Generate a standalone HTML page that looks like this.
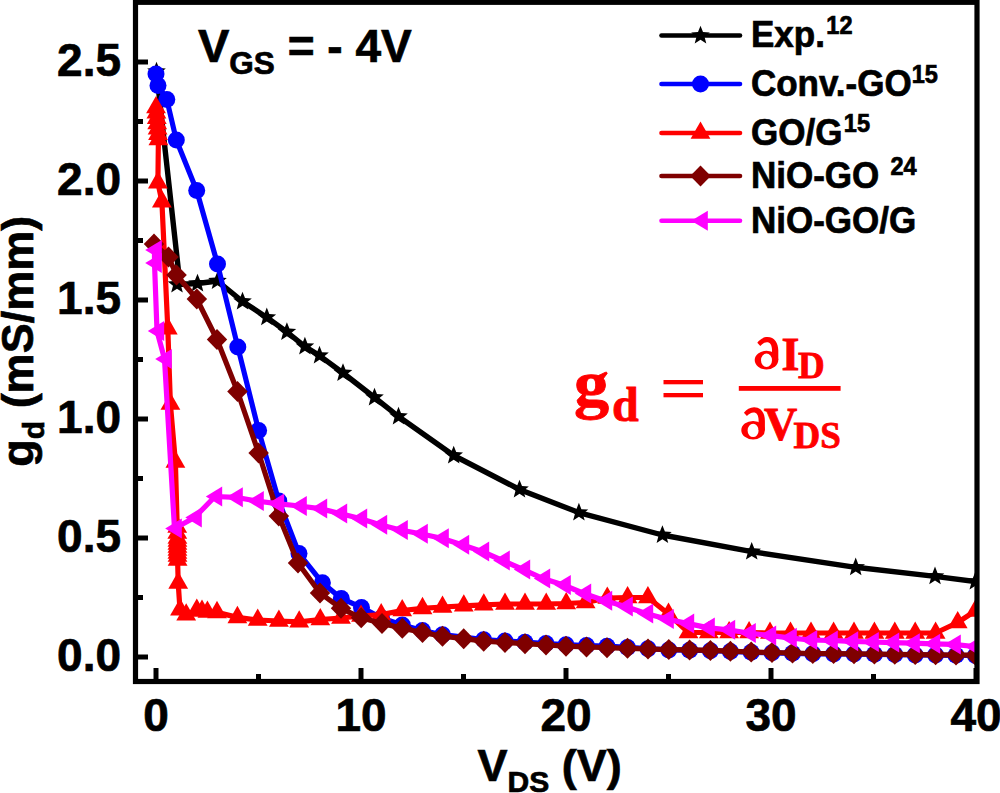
<!DOCTYPE html>
<html><head><meta charset="utf-8"><style>
html,body{margin:0;padding:0;background:#fff;width:1000px;height:793px;overflow:hidden}
svg{position:absolute;left:0;top:0}
</style></head><body>
<svg width="1000" height="793" viewBox="0 0 1000 793">
<defs><clipPath id="pc"><rect x="138" y="4" width="837" height="675"/></clipPath></defs>
<g clip-path="url(#pc)"><g fill="#000000"><polyline points="156.5,71.5 178.5,271.0 177.0,284.5 197.5,283.5 217.5,281.0 242.5,301.5 266.8,317.4 286.9,332.0 304.9,346.6 319.5,355.6 343.0,373.0 374.5,397.5 398.5,416.5 453.7,455.5 519.5,489.5 578.9,512.6 662.4,535.0 751.7,551.7 855.7,567.3 935.0,576.4 975.3,581.6" fill="none" stroke="#000000" stroke-width="5.4" stroke-linejoin="round"/><polygon points="156.5,61.7 159.0,68.1 165.8,68.5 160.5,72.8 162.3,79.4 156.5,75.7 150.7,79.4 152.5,72.8 147.2,68.5 154.0,68.1"/><polygon points="177.0,274.7 179.5,281.1 186.3,281.5 181.0,285.8 182.8,292.4 177.0,288.7 171.2,292.4 173.0,285.8 167.7,281.5 174.5,281.1"/><polygon points="197.5,273.7 200.0,280.1 206.8,280.5 201.5,284.8 203.3,291.4 197.5,287.7 191.7,291.4 193.5,284.8 188.2,280.5 195.0,280.1"/><polygon points="217.5,271.2 220.0,277.6 226.8,278.0 221.5,282.3 223.3,288.9 217.5,285.2 211.7,288.9 213.5,282.3 208.2,278.0 215.0,277.6"/><polygon points="242.5,291.7 245.0,298.1 251.8,298.5 246.5,302.8 248.3,309.4 242.5,305.7 236.7,309.4 238.5,302.8 233.2,298.5 240.0,298.1"/><polygon points="266.8,307.6 269.3,314.0 276.1,314.4 270.8,318.7 272.6,325.3 266.8,321.6 261.0,325.3 262.8,318.7 257.5,314.4 264.3,314.0"/><polygon points="286.9,322.2 289.4,328.6 296.2,329.0 290.9,333.3 292.7,339.9 286.9,336.2 281.1,339.9 282.9,333.3 277.6,329.0 284.4,328.6"/><polygon points="304.9,336.8 307.4,343.2 314.2,343.6 308.9,347.9 310.7,354.5 304.9,350.8 299.1,354.5 300.9,347.9 295.6,343.6 302.4,343.2"/><polygon points="319.5,345.8 322.0,352.2 328.8,352.6 323.5,356.9 325.3,363.5 319.5,359.8 313.7,363.5 315.5,356.9 310.2,352.6 317.0,352.2"/><polygon points="343.0,363.2 345.5,369.6 352.3,370.0 347.0,374.3 348.8,380.9 343.0,377.2 337.2,380.9 339.0,374.3 333.7,370.0 340.5,369.6"/><polygon points="374.5,387.7 377.0,394.1 383.8,394.5 378.5,398.8 380.3,405.4 374.5,401.7 368.7,405.4 370.5,398.8 365.2,394.5 372.0,394.1"/><polygon points="398.5,406.7 401.0,413.1 407.8,413.5 402.5,417.8 404.3,424.4 398.5,420.7 392.7,424.4 394.5,417.8 389.2,413.5 396.0,413.1"/><polygon points="453.7,445.7 456.2,452.1 463.0,452.5 457.7,456.8 459.5,463.4 453.7,459.7 447.9,463.4 449.7,456.8 444.4,452.5 451.2,452.1"/><polygon points="519.5,479.7 522.0,486.1 528.8,486.5 523.5,490.8 525.3,497.4 519.5,493.7 513.7,497.4 515.5,490.8 510.2,486.5 517.0,486.1"/><polygon points="578.9,502.8 581.4,509.2 588.2,509.6 582.9,513.9 584.7,520.5 578.9,516.8 573.1,520.5 574.9,513.9 569.6,509.6 576.4,509.2"/><polygon points="662.4,525.2 664.9,531.6 671.7,532.0 666.4,536.3 668.2,542.9 662.4,539.2 656.6,542.9 658.4,536.3 653.1,532.0 659.9,531.6"/><polygon points="751.7,541.9 754.2,548.3 761.0,548.7 755.7,553.0 757.5,559.6 751.7,555.9 745.9,559.6 747.7,553.0 742.4,548.7 749.2,548.3"/><polygon points="855.7,557.5 858.2,563.9 865.0,564.3 859.7,568.6 861.5,575.2 855.7,571.5 849.9,575.2 851.7,568.6 846.4,564.3 853.2,563.9"/><polygon points="935.0,566.6 937.5,573.0 944.3,573.4 939.0,577.7 940.8,584.3 935.0,580.6 929.2,584.3 931.0,577.7 925.7,573.4 932.5,573.0"/><polygon points="975.3,571.8 977.8,578.2 984.6,578.6 979.3,582.9 981.1,589.5 975.3,585.8 969.5,589.5 971.3,582.9 966.0,578.6 972.8,578.2"/></g><g fill="#0000ff"><polyline points="156.0,74.0 158.0,85.5 166.8,99.5 176.3,140.0 196.7,190.5 217.5,264.0 237.8,347.0 258.6,430.4 278.8,501.0 299.0,553.5 322.4,582.8 341.3,598.4 361.5,607.4 381.5,618.0 402.3,625.0 422.5,630.5 442.5,634.7 483.7,639.7 505.0,641.0 525.0,642.2 546.0,643.5 566.0,644.7 586.5,645.5 607.0,646.2 627.5,647.4 648.0,648.7 668.8,649.9 689.6,650.2 710.4,650.7 730.4,651.5 751.2,652.3 772.0,652.8 792.5,653.3 812.8,653.8 833.6,653.9 854.0,654.1 874.4,654.3 894.8,654.6 915.2,654.9 935.6,655.1 956.0,655.3 975.5,655.5" fill="none" stroke="#0000ff" stroke-width="5.2" stroke-linejoin="round"/><circle cx="156.0" cy="74.0" r="8.5"/><circle cx="158.0" cy="85.5" r="8.5"/><circle cx="166.8" cy="99.5" r="8.5"/><circle cx="176.3" cy="140.0" r="8.5"/><circle cx="196.7" cy="190.5" r="8.5"/><circle cx="217.5" cy="264.0" r="8.5"/><circle cx="237.8" cy="347.0" r="8.5"/><circle cx="258.6" cy="430.4" r="8.5"/><circle cx="278.8" cy="501.0" r="8.5"/><circle cx="299.0" cy="553.5" r="8.5"/><circle cx="322.4" cy="582.8" r="8.5"/><circle cx="341.3" cy="598.4" r="8.5"/><circle cx="361.5" cy="607.4" r="8.5"/><circle cx="381.5" cy="618.0" r="8.5"/><circle cx="402.3" cy="625.0" r="8.5"/><circle cx="422.5" cy="630.5" r="8.5"/><circle cx="442.5" cy="634.7" r="8.5"/><circle cx="483.7" cy="639.7" r="8.5"/><circle cx="505.0" cy="641.0" r="8.5"/><circle cx="525.0" cy="642.2" r="8.5"/><circle cx="546.0" cy="643.5" r="8.5"/><circle cx="566.0" cy="644.7" r="8.5"/><circle cx="586.5" cy="645.5" r="8.5"/><circle cx="607.0" cy="646.2" r="8.5"/><circle cx="627.5" cy="647.4" r="8.5"/><circle cx="648.0" cy="648.7" r="8.5"/><circle cx="668.8" cy="649.9" r="8.5"/><circle cx="689.6" cy="650.2" r="8.5"/><circle cx="710.4" cy="650.7" r="8.5"/><circle cx="730.4" cy="651.5" r="8.5"/><circle cx="751.2" cy="652.3" r="8.5"/><circle cx="772.0" cy="652.8" r="8.5"/><circle cx="792.5" cy="653.3" r="8.5"/><circle cx="812.8" cy="653.8" r="8.5"/><circle cx="833.6" cy="653.9" r="8.5"/><circle cx="854.0" cy="654.1" r="8.5"/><circle cx="874.4" cy="654.3" r="8.5"/><circle cx="894.8" cy="654.6" r="8.5"/><circle cx="915.2" cy="654.9" r="8.5"/><circle cx="935.6" cy="655.1" r="8.5"/><circle cx="956.0" cy="655.3" r="8.5"/><circle cx="975.5" cy="655.5" r="8.5"/></g><g fill="#ff0000"><polyline points="156.0,107.5 156.4,112.8 156.8,118.2 157.2,123.5 157.6,128.8 158.0,134.2 158.4,139.5 157.9,182.7 161.9,201.6 167.8,328.6 170.4,404.0 175.4,462.0 177.2,527.0 177.3,533.0 177.4,538.0 177.4,541.0 177.4,544.0 177.4,547.0 177.4,550.0 177.4,553.0 177.5,556.0 177.6,560.0 178.2,583.0 180.0,609.8 186.2,614.8 196.8,610.0 202.0,611.0 207.4,612.0 217.0,612.4 237.4,617.4 257.7,620.0 278.9,621.0 299.2,621.8 320.3,619.5 341.0,618.0 361.0,616.0 381.2,614.6 402.2,610.5 422.5,608.4 442.5,607.0 463.8,605.8 483.8,604.8 505.0,604.0 525.0,604.0 546.2,604.0 566.2,603.5 585.6,602.5 607.3,598.0 627.6,597.5 647.9,597.5 668.5,614.0 688.5,632.5 708.8,632.5 729.1,632.5 749.1,632.5 770.0,633.0 790.5,633.0 811.0,633.0 833.6,633.0 854.0,633.0 874.4,633.0 894.8,633.0 915.2,633.0 935.6,633.0 957.7,622.5 975.3,611.0" fill="none" stroke="#ff0000" stroke-width="5.2" stroke-linejoin="round"/><polygon points="156.0,95.9 165.9,113.3 146.1,113.3"/><polygon points="156.4,101.2 166.3,118.6 146.5,118.6"/><polygon points="156.8,106.6 166.7,124.0 146.9,124.0"/><polygon points="157.2,111.9 167.1,129.3 147.3,129.3"/><polygon points="157.6,117.2 167.5,134.6 147.7,134.6"/><polygon points="158.0,122.6 167.9,140.0 148.1,140.0"/><polygon points="158.4,127.9 168.3,145.3 148.5,145.3"/><polygon points="157.9,171.1 167.8,188.5 148.0,188.5"/><polygon points="161.9,190.0 171.8,207.4 152.0,207.4"/><polygon points="167.8,317.0 177.7,334.4 157.9,334.4"/><polygon points="170.4,392.4 180.3,409.8 160.5,409.8"/><polygon points="175.4,450.4 185.3,467.8 165.5,467.8"/><polygon points="177.2,515.4 187.1,532.8 167.3,532.8"/><polygon points="177.3,521.4 187.2,538.8 167.4,538.8"/><polygon points="177.4,526.4 187.3,543.8 167.5,543.8"/><polygon points="177.4,529.4 187.3,546.8 167.5,546.8"/><polygon points="177.4,532.4 187.3,549.8 167.5,549.8"/><polygon points="177.4,535.4 187.3,552.8 167.5,552.8"/><polygon points="177.4,538.4 187.3,555.8 167.5,555.8"/><polygon points="177.4,541.4 187.3,558.8 167.5,558.8"/><polygon points="177.5,544.4 187.4,561.8 167.6,561.8"/><polygon points="177.6,548.4 187.5,565.8 167.7,565.8"/><polygon points="178.2,571.4 188.1,588.8 168.3,588.8"/><polygon points="180.0,598.2 189.9,615.6 170.1,615.6"/><polygon points="186.2,603.2 196.1,620.6 176.3,620.6"/><polygon points="196.8,598.4 206.7,615.8 186.9,615.8"/><polygon points="202.0,599.4 211.9,616.8 192.1,616.8"/><polygon points="207.4,600.4 217.3,617.8 197.5,617.8"/><polygon points="217.0,600.8 226.9,618.2 207.1,618.2"/><polygon points="237.4,605.8 247.3,623.2 227.5,623.2"/><polygon points="257.7,608.4 267.6,625.8 247.8,625.8"/><polygon points="278.9,609.4 288.8,626.8 269.0,626.8"/><polygon points="299.2,610.2 309.1,627.6 289.3,627.6"/><polygon points="320.3,607.9 330.2,625.3 310.4,625.3"/><polygon points="341.0,606.4 350.9,623.8 331.1,623.8"/><polygon points="361.0,604.4 370.9,621.8 351.1,621.8"/><polygon points="381.2,603.0 391.1,620.4 371.3,620.4"/><polygon points="402.2,598.9 412.1,616.3 392.3,616.3"/><polygon points="422.5,596.8 432.4,614.2 412.6,614.2"/><polygon points="442.5,595.4 452.4,612.8 432.6,612.8"/><polygon points="463.8,594.2 473.6,611.6 453.9,611.6"/><polygon points="483.8,593.2 493.6,610.6 473.9,610.6"/><polygon points="505.0,592.4 514.9,609.8 495.1,609.8"/><polygon points="525.0,592.4 534.9,609.8 515.1,609.8"/><polygon points="546.2,592.4 556.1,609.8 536.4,609.8"/><polygon points="566.2,591.9 576.1,609.3 556.4,609.3"/><polygon points="585.6,590.9 595.5,608.3 575.7,608.3"/><polygon points="607.3,586.4 617.2,603.8 597.4,603.8"/><polygon points="627.6,585.9 637.5,603.3 617.7,603.3"/><polygon points="647.9,585.9 657.8,603.3 638.0,603.3"/><polygon points="668.5,602.4 678.4,619.8 658.6,619.8"/><polygon points="688.5,620.9 698.4,638.3 678.6,638.3"/><polygon points="708.8,620.9 718.7,638.3 698.9,638.3"/><polygon points="729.1,620.9 739.0,638.3 719.2,638.3"/><polygon points="749.1,620.9 759.0,638.3 739.2,638.3"/><polygon points="770.0,621.4 779.9,638.8 760.1,638.8"/><polygon points="790.5,621.4 800.4,638.8 780.6,638.8"/><polygon points="811.0,621.4 820.9,638.8 801.1,638.8"/><polygon points="833.6,621.4 843.5,638.8 823.7,638.8"/><polygon points="854.0,621.4 863.9,638.8 844.1,638.8"/><polygon points="874.4,621.4 884.3,638.8 864.5,638.8"/><polygon points="894.8,621.4 904.7,638.8 884.9,638.8"/><polygon points="915.2,621.4 925.1,638.8 905.3,638.8"/><polygon points="935.6,621.4 945.5,638.8 925.7,638.8"/><polygon points="957.7,610.9 967.6,628.3 947.8,628.3"/><polygon points="975.3,599.4 985.2,616.8 965.4,616.8"/></g><g fill="#7f0000"><polyline points="154.0,244.0 168.5,257.0 176.5,275.0 196.8,299.0 217.0,339.5 237.5,391.5 258.6,453.0 278.8,516.0 298.0,563.0 320.0,593.0 341.0,608.3 361.2,617.8 382.0,623.4 402.3,628.3 422.5,632.5 442.5,636.2 463.7,638.7 483.7,641.2 505.0,642.5 525.0,643.7 546.0,645.0 566.0,646.2 586.5,647.0 607.0,647.7 627.5,648.3 648.0,649.0 668.8,649.6 689.6,649.9 710.4,650.4 730.4,651.2 751.2,652.0 772.0,652.5 792.5,653.0 812.8,653.5 833.6,653.6 854.0,653.8 874.4,654.0 894.8,654.3 915.2,654.6 935.6,654.8 956.0,655.0 975.5,655.2" fill="none" stroke="#7f0000" stroke-width="5.2" stroke-linejoin="round"/><polygon points="154.0,233.5 164.2,244.0 154.0,254.5 143.8,244.0"/><polygon points="168.5,246.5 178.8,257.0 168.5,267.5 158.2,257.0"/><polygon points="176.5,264.5 186.8,275.0 176.5,285.5 166.2,275.0"/><polygon points="196.8,288.5 207.1,299.0 196.8,309.5 186.6,299.0"/><polygon points="217.0,329.0 227.2,339.5 217.0,350.0 206.8,339.5"/><polygon points="237.5,381.0 247.8,391.5 237.5,402.0 227.2,391.5"/><polygon points="258.6,442.5 268.9,453.0 258.6,463.5 248.4,453.0"/><polygon points="278.8,505.5 289.1,516.0 278.8,526.5 268.6,516.0"/><polygon points="298.0,552.5 308.2,563.0 298.0,573.5 287.8,563.0"/><polygon points="320.0,582.5 330.2,593.0 320.0,603.5 309.8,593.0"/><polygon points="341.0,597.8 351.2,608.3 341.0,618.8 330.8,608.3"/><polygon points="361.2,607.3 371.4,617.8 361.2,628.3 350.9,617.8"/><polygon points="382.0,612.9 392.2,623.4 382.0,633.9 371.8,623.4"/><polygon points="402.3,617.8 412.6,628.3 402.3,638.8 392.1,628.3"/><polygon points="422.5,622.0 432.8,632.5 422.5,643.0 412.2,632.5"/><polygon points="442.5,625.7 452.8,636.2 442.5,646.7 432.2,636.2"/><polygon points="463.7,628.2 473.9,638.7 463.7,649.2 453.4,638.7"/><polygon points="483.7,630.7 493.9,641.2 483.7,651.7 473.4,641.2"/><polygon points="505.0,632.0 515.2,642.5 505.0,653.0 494.8,642.5"/><polygon points="525.0,633.2 535.2,643.7 525.0,654.2 514.8,643.7"/><polygon points="546.0,634.5 556.2,645.0 546.0,655.5 535.8,645.0"/><polygon points="566.0,635.7 576.2,646.2 566.0,656.7 555.8,646.2"/><polygon points="586.5,636.5 596.8,647.0 586.5,657.5 576.2,647.0"/><polygon points="607.0,637.2 617.2,647.7 607.0,658.2 596.8,647.7"/><polygon points="627.5,637.8 637.8,648.3 627.5,658.8 617.2,648.3"/><polygon points="648.0,638.5 658.2,649.0 648.0,659.5 637.8,649.0"/><polygon points="668.8,639.1 679.0,649.6 668.8,660.1 658.5,649.6"/><polygon points="689.6,639.4 699.9,649.9 689.6,660.4 679.4,649.9"/><polygon points="710.4,639.9 720.6,650.4 710.4,660.9 700.1,650.4"/><polygon points="730.4,640.7 740.6,651.2 730.4,661.7 720.1,651.2"/><polygon points="751.2,641.5 761.5,652.0 751.2,662.5 741.0,652.0"/><polygon points="772.0,642.0 782.2,652.5 772.0,663.0 761.8,652.5"/><polygon points="792.5,642.5 802.8,653.0 792.5,663.5 782.2,653.0"/><polygon points="812.8,643.0 823.0,653.5 812.8,664.0 802.5,653.5"/><polygon points="833.6,643.1 843.9,653.6 833.6,664.1 823.4,653.6"/><polygon points="854.0,643.3 864.2,653.8 854.0,664.3 843.8,653.8"/><polygon points="874.4,643.5 884.6,654.0 874.4,664.5 864.1,654.0"/><polygon points="894.8,643.8 905.0,654.3 894.8,664.8 884.5,654.3"/><polygon points="915.2,644.1 925.5,654.6 915.2,665.1 905.0,654.6"/><polygon points="935.6,644.3 945.9,654.8 935.6,665.3 925.4,654.8"/><polygon points="956.0,644.5 966.2,655.0 956.0,665.5 945.8,655.0"/><polygon points="975.5,644.7 985.8,655.2 975.5,665.7 965.2,655.2"/></g><g fill="#ff00ff"><polyline points="154.5,250.0 154.5,263.0 157.0,331.0 164.5,359.0 174.5,528.5 194.6,517.5 215.0,496.5 235.5,497.3 256.5,501.0 277.0,503.6 299.5,506.0 320.0,508.6 340.0,513.5 360.0,518.5 380.0,524.8 400.5,530.0 420.5,533.7 441.5,538.2 462.0,544.8 482.0,551.5 502.5,560.5 523.0,569.5 543.0,578.5 563.5,585.0 584.0,593.5 605.0,600.7 625.5,606.5 646.0,613.5 666.5,619.0 687.0,623.4 707.5,627.6 728.0,629.8 748.5,633.0 769.0,635.4 789.5,637.8 810.0,640.0 830.5,640.5 851.0,641.3 871.5,642.0 892.0,642.6 912.5,643.2 933.0,643.8 953.5,644.4 974.0,646.5" fill="none" stroke="#ff00ff" stroke-width="5.2" stroke-linejoin="round"/><polygon points="145.2,250.0 161.8,240.0 161.8,260.0"/><polygon points="145.2,263.0 161.8,253.0 161.8,273.0"/><polygon points="147.8,331.0 164.2,321.0 164.2,341.0"/><polygon points="155.2,359.0 171.8,349.0 171.8,369.0"/><polygon points="165.2,528.5 181.8,518.5 181.8,538.5"/><polygon points="185.3,517.5 201.8,507.5 201.8,527.5"/><polygon points="205.8,496.5 222.2,486.5 222.2,506.5"/><polygon points="226.2,497.3 242.8,487.3 242.8,507.3"/><polygon points="247.2,501.0 263.8,491.0 263.8,511.0"/><polygon points="267.8,503.6 284.2,493.6 284.2,513.6"/><polygon points="290.2,506.0 306.8,496.0 306.8,516.0"/><polygon points="310.8,508.6 327.2,498.6 327.2,518.6"/><polygon points="330.8,513.5 347.2,503.5 347.2,523.5"/><polygon points="350.8,518.5 367.2,508.5 367.2,528.5"/><polygon points="370.8,524.8 387.2,514.8 387.2,534.8"/><polygon points="391.2,530.0 407.8,520.0 407.8,540.0"/><polygon points="411.2,533.7 427.8,523.7 427.8,543.7"/><polygon points="432.2,538.2 448.8,528.2 448.8,548.2"/><polygon points="452.8,544.8 469.2,534.8 469.2,554.8"/><polygon points="472.8,551.5 489.2,541.5 489.2,561.5"/><polygon points="493.2,560.5 509.8,550.5 509.8,570.5"/><polygon points="513.8,569.5 530.2,559.5 530.2,579.5"/><polygon points="533.8,578.5 550.2,568.5 550.2,588.5"/><polygon points="554.2,585.0 570.8,575.0 570.8,595.0"/><polygon points="574.8,593.5 591.2,583.5 591.2,603.5"/><polygon points="595.8,600.7 612.2,590.7 612.2,610.7"/><polygon points="616.2,606.5 632.8,596.5 632.8,616.5"/><polygon points="636.8,613.5 653.2,603.5 653.2,623.5"/><polygon points="657.2,619.0 673.8,609.0 673.8,629.0"/><polygon points="677.8,623.4 694.2,613.4 694.2,633.4"/><polygon points="698.2,627.6 714.8,617.6 714.8,637.6"/><polygon points="718.8,629.8 735.2,619.8 735.2,639.8"/><polygon points="739.2,633.0 755.8,623.0 755.8,643.0"/><polygon points="759.8,635.4 776.2,625.4 776.2,645.4"/><polygon points="780.2,637.8 796.8,627.8 796.8,647.8"/><polygon points="800.8,640.0 817.2,630.0 817.2,650.0"/><polygon points="821.2,640.5 837.8,630.5 837.8,650.5"/><polygon points="841.8,641.3 858.2,631.3 858.2,651.3"/><polygon points="862.2,642.0 878.8,632.0 878.8,652.0"/><polygon points="882.8,642.6 899.2,632.6 899.2,652.6"/><polygon points="903.2,643.2 919.8,633.2 919.8,653.2"/><polygon points="923.8,643.8 940.2,633.8 940.2,653.8"/><polygon points="944.2,644.4 960.8,634.4 960.8,654.4"/><polygon points="964.8,646.5 981.2,636.5 981.2,656.5"/></g></g>
<rect x="135.5" y="2.3" width="841.5" height="679.2" fill="none" stroke="#000" stroke-width="5.2"/>
<g stroke="#000" stroke-width="5"><line x1="138" y1="657.0" x2="148" y2="657.0"/><line x1="138" y1="538.0" x2="148" y2="538.0"/><line x1="138" y1="419.0" x2="148" y2="419.0"/><line x1="138" y1="300.0" x2="148" y2="300.0"/><line x1="138" y1="181.0" x2="148" y2="181.0"/><line x1="138" y1="62.0" x2="148" y2="62.0"/><line x1="138" y1="597.5" x2="143" y2="597.5"/><line x1="138" y1="478.5" x2="143" y2="478.5"/><line x1="138" y1="359.5" x2="143" y2="359.5"/><line x1="138" y1="240.5" x2="143" y2="240.5"/><line x1="138" y1="121.5" x2="143" y2="121.5"/><line x1="156.0" y1="679" x2="156.0" y2="668"/><line x1="361.0" y1="679" x2="361.0" y2="668"/><line x1="566.0" y1="679" x2="566.0" y2="668"/><line x1="771.0" y1="679" x2="771.0" y2="668"/><line x1="976.0" y1="679" x2="976.0" y2="668"/><line x1="258.5" y1="679" x2="258.5" y2="674"/><line x1="463.5" y1="679" x2="463.5" y2="674"/><line x1="668.5" y1="679" x2="668.5" y2="674"/><line x1="873.5" y1="679" x2="873.5" y2="674"/></g><g style="font-family:&quot;Liberation Sans&quot;,sans-serif;font-weight:bold;stroke:#000;stroke-width:0.7px;;font-size:46px" fill="#000"><text x="121" y="670.5" text-anchor="end">0.0</text><text x="121" y="551.5" text-anchor="end">0.5</text><text x="121" y="432.5" text-anchor="end">1.0</text><text x="121" y="313.5" text-anchor="end">1.5</text><text x="121" y="194.5" text-anchor="end">2.0</text><text x="121" y="75.5" text-anchor="end">2.5</text><text x="156.0" y="731.3" text-anchor="middle">0</text><text x="361.0" y="731.3" text-anchor="middle">10</text><text x="566.0" y="731.3" text-anchor="middle">20</text><text x="771.0" y="731.3" text-anchor="middle">30</text><text x="976.0" y="731.3" text-anchor="middle">40</text></g>
<text x="198" y="61.5" style="font-family:&quot;Liberation Sans&quot;,sans-serif;font-weight:bold;stroke:#000;stroke-width:0.7px;;font-size:47px">V<tspan dy="12.5" style="font-size:31.5px">GS</tspan><tspan dy="-12.5" style="font-size:46px"> = - 4V</tspan></text>
<g fill="#000000"><line x1="661.5" y1="35.5" x2="740" y2="35.5" stroke="#000000" stroke-width="4.6" stroke-linecap="round"/><polygon points="700.5,25.7 703.0,32.1 709.8,32.5 704.5,36.8 706.3,43.4 700.5,39.7 694.7,43.4 696.5,36.8 691.2,32.5 698.0,32.1"/></g><text x="751" y="47.5" transform="translate(0,47.5) scale(1,1.06) translate(0,-47.5)" style="font-family:&quot;Liberation Sans&quot;,sans-serif;font-weight:bold;stroke:#000;stroke-width:0.7px;font-size:35px">Exp.<tspan dx="1.5" dy="-12.5" style="font-size:23.5px">12</tspan></text><g fill="#0000ff"><line x1="661.5" y1="84.0" x2="740" y2="84.0" stroke="#0000ff" stroke-width="4.6" stroke-linecap="round"/><circle cx="700.5" cy="84.0" r="8.5"/></g><text x="751" y="96.0" transform="translate(0,96.0) scale(1,1.06) translate(0,-96.0)" style="font-family:&quot;Liberation Sans&quot;,sans-serif;font-weight:bold;stroke:#000;stroke-width:0.7px;font-size:35px">Conv.-GO<tspan dx="0.0" dy="-12.5" style="font-size:23.5px">15</tspan></text><g fill="#ff0000"><line x1="661.5" y1="133.0" x2="740" y2="133.0" stroke="#ff0000" stroke-width="4.6" stroke-linecap="round"/><polygon points="700.5,121.4 710.4,138.8 690.6,138.8"/></g><text x="751" y="145.0" transform="translate(0,145.0) scale(1,1.06) translate(0,-145.0)" style="font-family:&quot;Liberation Sans&quot;,sans-serif;font-weight:bold;stroke:#000;stroke-width:0.7px;font-size:35px">GO/G<tspan dx="1.5" dy="-12.5" style="font-size:23.5px">15</tspan></text><g fill="#7f0000"><line x1="661.5" y1="176.0" x2="740" y2="176.0" stroke="#7f0000" stroke-width="4.6" stroke-linecap="round"/><polygon points="700.5,165.5 710.8,176.0 700.5,186.5 690.2,176.0"/></g><text x="751" y="188.0" transform="translate(0,188.0) scale(1,1.06) translate(0,-188.0)" style="font-family:&quot;Liberation Sans&quot;,sans-serif;font-weight:bold;stroke:#000;stroke-width:0.7px;font-size:35px">NiO-GO&#160;<tspan dx="1.5" dy="-12.5" style="font-size:23.5px">24</tspan></text><g fill="#ff00ff"><line x1="661.5" y1="220.7" x2="740" y2="220.7" stroke="#ff00ff" stroke-width="4.6" stroke-linecap="round"/><polygon points="691.2,220.7 707.8,210.7 707.8,230.7"/></g><text x="751" y="232.7" transform="translate(0,232.7) scale(1,1.06) translate(0,-232.7)" style="font-family:&quot;Liberation Sans&quot;,sans-serif;font-weight:bold;stroke:#000;stroke-width:0.7px;font-size:35px">NiO-GO/G<tspan dx="1.5" dy="-12.5" style="font-size:23.5px"></tspan></text>
<text transform="translate(33,466.7) rotate(-90)" style="font-family:&quot;Liberation Sans&quot;,sans-serif;font-weight:bold;stroke:#000;stroke-width:0.7px;;font-size:45px">g<tspan dy="11" style="font-size:30px">d</tspan><tspan dy="-11"> (mS/mm)</tspan></text>
<text x="477.5" y="780.5" style="font-family:&quot;Liberation Sans&quot;,sans-serif;font-weight:bold;stroke:#000;stroke-width:0.7px;;font-size:45px">V<tspan dy="11" style="font-size:30px">DS</tspan><tspan dy="-11"> (V)</tspan></text>
<g fill="#ff0000" style="font-family:&quot;Liberation Serif&quot;,serif;font-weight:bold;stroke:#ff0000;stroke-width:0.8px;">
<text x="574" y="406" style="font-size:65px" transform="translate(574,0) scale(1.08,1) translate(-574,0)">g</text>
<text x="612" y="421" style="font-size:48px">d</text>
<rect x="663.5" y="380" width="39.5" height="4.3" stroke="none"/>
<rect x="663.5" y="393" width="39.5" height="4.3" stroke="none"/>
<g transform="translate(754.7,337.1)"><path d="M0,23 A11.8,9.3 0 1,0 23.6,23 A11.8,9.3 0 1,0 0,23 Z M6.3,23.2 A5.5,6.7 0 1,0 17.3,23.2 A5.5,6.7 0 1,0 6.3,23.2 Z" fill-rule="evenodd" stroke="none"/><path d="M17.3,23 L17.3,13 C17.3,7.8 15.3,5.2 12.2,5.2 C9.8,5.2 7.8,6.5 5.6,8.8 L2.6,5.6 C5.2,2.2 8.6,0 12.8,0 C19.8,0 23.6,6 23.6,13.5 L23.6,23 Z" stroke="none"/></g>
<text x="781.5" y="369.5" style="font-size:46px">I</text>
<text x="798" y="378.2" style="font-size:37px">D</text>
<rect x="738.8" y="386" width="101.8" height="4.8" stroke="none"/>
<g transform="translate(741.3,407.2)"><path d="M0,23 A11.8,9.3 0 1,0 23.6,23 A11.8,9.3 0 1,0 0,23 Z M6.3,23.2 A5.5,6.7 0 1,0 17.3,23.2 A5.5,6.7 0 1,0 6.3,23.2 Z" fill-rule="evenodd" stroke="none"/><path d="M17.3,23 L17.3,13 C17.3,7.8 15.3,5.2 12.2,5.2 C9.8,5.2 7.8,6.5 5.6,8.8 L2.6,5.6 C5.2,2.2 8.6,0 12.8,0 C19.8,0 23.6,6 23.6,13.5 L23.6,23 Z" stroke="none"/></g>
<text x="764" y="439.5" style="font-size:46px">V</text>
<text x="793.5" y="448.2" style="font-size:37px">DS</text>
</g>
</svg>
</body></html>
